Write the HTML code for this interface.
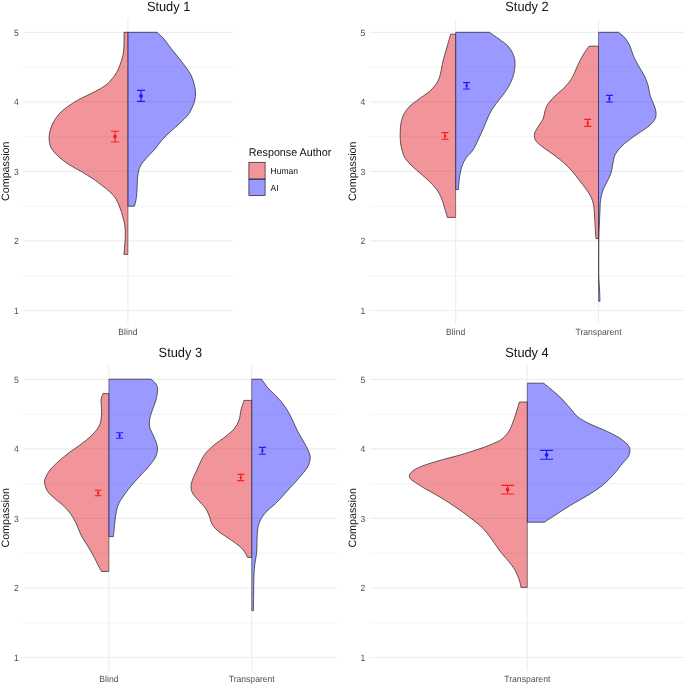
<!DOCTYPE html>
<html lang="en"><head><meta charset="utf-8"><title>Compassion by Response Author</title>
<style>
html,body{margin:0;padding:0;background:#fff;}
svg{display:block;}
text{font-family:"Liberation Sans",Arial,Helvetica,sans-serif;text-rendering:geometricPrecision;}
.tick{font-size:8.6px;fill:#4d4d4d;}
.title{font-size:12.8px;fill:#111;}
.ylab{font-size:10.7px;fill:#111;}
.ltitle{font-size:10.75px;fill:#111;}
.ltext{font-size:8.5px;fill:#111;}
</style></head><body>
<svg width="685" height="685" viewBox="0 0 685 685">
<rect width="685" height="685" fill="#ffffff"/>
<line x1="23.30" x2="232.40" y1="275.74" y2="275.74" stroke="#f0f0f0" stroke-width="0.75"/>
<line x1="23.30" x2="232.40" y1="206.20" y2="206.20" stroke="#f0f0f0" stroke-width="0.75"/>
<line x1="23.30" x2="232.40" y1="136.68" y2="136.68" stroke="#f0f0f0" stroke-width="0.75"/>
<line x1="23.30" x2="232.40" y1="67.14" y2="67.14" stroke="#f0f0f0" stroke-width="0.75"/>
<line x1="23.30" x2="232.40" y1="310.50" y2="310.50" stroke="#eeeeee" stroke-width="1.2"/>
<text transform="translate(18.90 314.00) scale(1 1.045)" class="tick" text-anchor="end">1</text>
<line x1="23.30" x2="232.40" y1="240.97" y2="240.97" stroke="#eeeeee" stroke-width="1.2"/>
<text transform="translate(18.90 244.47) scale(1 1.045)" class="tick" text-anchor="end">2</text>
<line x1="23.30" x2="232.40" y1="171.44" y2="171.44" stroke="#eeeeee" stroke-width="1.2"/>
<text transform="translate(18.90 174.94) scale(1 1.045)" class="tick" text-anchor="end">3</text>
<line x1="23.30" x2="232.40" y1="101.91" y2="101.91" stroke="#eeeeee" stroke-width="1.2"/>
<text transform="translate(18.90 105.41) scale(1 1.045)" class="tick" text-anchor="end">4</text>
<line x1="23.30" x2="232.40" y1="32.38" y2="32.38" stroke="#eeeeee" stroke-width="1.2"/>
<text transform="translate(18.90 35.88) scale(1 1.045)" class="tick" text-anchor="end">5</text>
<line x1="127.90" x2="127.90" y1="18.80" y2="323.60" stroke="#eeeeee" stroke-width="1.2"/>
<text transform="translate(127.90 335.40) scale(1 1.045)" class="tick" text-anchor="middle">Blind</text>
<text transform="translate(168.60 10.50) scale(1 1.045)" class="title" text-anchor="middle">Study 1</text>
<text transform="translate(9.00 171.20) rotate(-90)" class="ylab" text-anchor="middle">Compassion</text>
<path d="M127.90 32.30 L124.00 32.30  C124.00 34.42 124.17 41.22 124.00 45.00 C123.83 48.78 123.67 51.67 123.00 55.00 C122.33 58.33 121.33 61.67 120.00 65.00 C118.67 68.33 117.33 71.67 115.00 75.00 C112.67 78.33 109.50 82.17 106.00 85.00 C102.50 87.83 98.33 89.67 94.00 92.00 C89.67 94.33 84.00 96.83 80.00 99.00 C76.00 101.17 73.33 102.67 70.00 105.00 C66.67 107.33 62.83 110.00 60.00 113.00 C57.17 116.00 54.73 119.67 53.00 123.00 C51.27 126.33 50.23 130.17 49.60 133.00 C48.97 135.83 48.95 137.55 49.20 140.00 C49.45 142.45 49.57 144.95 51.10 147.70 C52.63 150.45 55.23 153.57 58.40 156.50 C61.57 159.43 66.20 162.75 70.10 165.30 C74.00 167.85 77.92 169.50 81.80 171.80 C85.68 174.10 90.03 176.82 93.40 179.10 C96.77 181.38 99.23 183.35 102.00 185.50 C104.77 187.65 107.67 189.75 110.00 192.00 C112.33 194.25 114.33 196.33 116.00 199.00 C117.67 201.67 118.85 205.00 120.00 208.00 C121.15 211.00 122.08 214.00 122.90 217.00 C123.72 220.00 124.50 222.83 124.90 226.00 C125.30 229.17 125.33 232.67 125.30 236.00 C125.27 239.33 124.93 242.93 124.70 246.00 C124.47 249.07 124.03 253.00 123.90 254.40 L127.90 254.40 Z" fill="rgba(224,3,17,0.42)" stroke="none"/><path d="M127.90 32.30 L124.00 32.30  C124.00 34.42 124.17 41.22 124.00 45.00 C123.83 48.78 123.67 51.67 123.00 55.00 C122.33 58.33 121.33 61.67 120.00 65.00 C118.67 68.33 117.33 71.67 115.00 75.00 C112.67 78.33 109.50 82.17 106.00 85.00 C102.50 87.83 98.33 89.67 94.00 92.00 C89.67 94.33 84.00 96.83 80.00 99.00 C76.00 101.17 73.33 102.67 70.00 105.00 C66.67 107.33 62.83 110.00 60.00 113.00 C57.17 116.00 54.73 119.67 53.00 123.00 C51.27 126.33 50.23 130.17 49.60 133.00 C48.97 135.83 48.95 137.55 49.20 140.00 C49.45 142.45 49.57 144.95 51.10 147.70 C52.63 150.45 55.23 153.57 58.40 156.50 C61.57 159.43 66.20 162.75 70.10 165.30 C74.00 167.85 77.92 169.50 81.80 171.80 C85.68 174.10 90.03 176.82 93.40 179.10 C96.77 181.38 99.23 183.35 102.00 185.50 C104.77 187.65 107.67 189.75 110.00 192.00 C112.33 194.25 114.33 196.33 116.00 199.00 C117.67 201.67 118.85 205.00 120.00 208.00 C121.15 211.00 122.08 214.00 122.90 217.00 C123.72 220.00 124.50 222.83 124.90 226.00 C125.30 229.17 125.33 232.67 125.30 236.00 C125.27 239.33 124.93 242.93 124.70 246.00 C124.47 249.07 124.03 253.00 123.90 254.40 L127.90 254.40" fill="none" stroke="#202020" stroke-width="0.7" stroke-linejoin="round"/><path d="M127.90 32.30 V254.40" fill="none" stroke="#202020" stroke-width="0.75" stroke-opacity="0.65"/>
<path d="M127.90 32.30 L157.00 32.30  C158.17 33.42 161.83 36.55 164.00 39.00 C166.17 41.45 167.67 44.00 170.00 47.00 C172.33 50.00 175.50 53.83 178.00 57.00 C180.50 60.17 182.83 63.00 185.00 66.00 C187.17 69.00 189.43 71.83 191.00 75.00 C192.57 78.17 193.63 82.00 194.40 85.00 C195.17 88.00 195.52 90.50 195.60 93.00 C195.68 95.50 195.43 97.67 194.90 100.00 C194.37 102.33 193.55 104.50 192.40 107.00 C191.25 109.50 190.23 112.17 188.00 115.00 C185.77 117.83 182.00 121.17 179.00 124.00 C176.00 126.83 172.83 129.33 170.00 132.00 C167.17 134.67 164.50 137.17 162.00 140.00 C159.50 142.83 157.50 146.08 155.00 149.00 C152.50 151.92 149.33 154.83 147.00 157.50 C144.67 160.17 142.43 162.58 141.00 165.00 C139.57 167.42 139.00 169.50 138.40 172.00 C137.80 174.50 137.63 177.00 137.40 180.00 C137.17 183.00 137.23 186.67 137.00 190.00 C136.77 193.33 136.43 197.30 136.00 200.00 C135.57 202.70 134.67 205.17 134.40 206.20 L127.90 206.20 Z" fill="rgba(2,0,255,0.4)" stroke="none"/><path d="M127.90 32.30 L157.00 32.30  C158.17 33.42 161.83 36.55 164.00 39.00 C166.17 41.45 167.67 44.00 170.00 47.00 C172.33 50.00 175.50 53.83 178.00 57.00 C180.50 60.17 182.83 63.00 185.00 66.00 C187.17 69.00 189.43 71.83 191.00 75.00 C192.57 78.17 193.63 82.00 194.40 85.00 C195.17 88.00 195.52 90.50 195.60 93.00 C195.68 95.50 195.43 97.67 194.90 100.00 C194.37 102.33 193.55 104.50 192.40 107.00 C191.25 109.50 190.23 112.17 188.00 115.00 C185.77 117.83 182.00 121.17 179.00 124.00 C176.00 126.83 172.83 129.33 170.00 132.00 C167.17 134.67 164.50 137.17 162.00 140.00 C159.50 142.83 157.50 146.08 155.00 149.00 C152.50 151.92 149.33 154.83 147.00 157.50 C144.67 160.17 142.43 162.58 141.00 165.00 C139.57 167.42 139.00 169.50 138.40 172.00 C137.80 174.50 137.63 177.00 137.40 180.00 C137.17 183.00 137.23 186.67 137.00 190.00 C136.77 193.33 136.43 197.30 136.00 200.00 C135.57 202.70 134.67 205.17 134.40 206.20 L127.90 206.20" fill="none" stroke="#202020" stroke-width="0.7" stroke-linejoin="round"/><path d="M127.90 32.30 V206.20" fill="none" stroke="#202020" stroke-width="0.75" stroke-opacity="0.65"/>
<g stroke="#ff1a1a" stroke-width="1.1" fill="none"><path d="M110.90 131.20 H119.10 M110.90 142.00 H119.10 M115.00 131.20 V142.00"/></g><circle cx="115.00" cy="136.60" r="1.90" fill="#ff1a1a"/>
<g stroke="#1a1aff" stroke-width="1.1" fill="none"><path d="M136.90 90.40 H145.10 M136.90 101.40 H145.10 M141.00 90.40 V101.40"/></g><circle cx="141.00" cy="95.90" r="1.90" fill="#1a1aff"/>
<line x1="369.80" x2="684.10" y1="275.74" y2="275.74" stroke="#f0f0f0" stroke-width="0.75"/>
<line x1="369.80" x2="684.10" y1="206.20" y2="206.20" stroke="#f0f0f0" stroke-width="0.75"/>
<line x1="369.80" x2="684.10" y1="136.68" y2="136.68" stroke="#f0f0f0" stroke-width="0.75"/>
<line x1="369.80" x2="684.10" y1="67.14" y2="67.14" stroke="#f0f0f0" stroke-width="0.75"/>
<line x1="369.80" x2="684.10" y1="310.50" y2="310.50" stroke="#eeeeee" stroke-width="1.2"/>
<text transform="translate(365.40 314.00) scale(1 1.045)" class="tick" text-anchor="end">1</text>
<line x1="369.80" x2="684.10" y1="240.97" y2="240.97" stroke="#eeeeee" stroke-width="1.2"/>
<text transform="translate(365.40 244.47) scale(1 1.045)" class="tick" text-anchor="end">2</text>
<line x1="369.80" x2="684.10" y1="171.44" y2="171.44" stroke="#eeeeee" stroke-width="1.2"/>
<text transform="translate(365.40 174.94) scale(1 1.045)" class="tick" text-anchor="end">3</text>
<line x1="369.80" x2="684.10" y1="101.91" y2="101.91" stroke="#eeeeee" stroke-width="1.2"/>
<text transform="translate(365.40 105.41) scale(1 1.045)" class="tick" text-anchor="end">4</text>
<line x1="369.80" x2="684.10" y1="32.38" y2="32.38" stroke="#eeeeee" stroke-width="1.2"/>
<text transform="translate(365.40 35.88) scale(1 1.045)" class="tick" text-anchor="end">5</text>
<line x1="455.65" x2="455.65" y1="18.80" y2="323.60" stroke="#eeeeee" stroke-width="1.2"/>
<text transform="translate(455.65 335.40) scale(1 1.045)" class="tick" text-anchor="middle">Blind</text>
<line x1="598.50" x2="598.50" y1="18.80" y2="323.60" stroke="#eeeeee" stroke-width="1.2"/>
<text transform="translate(598.50 335.40) scale(1 1.045)" class="tick" text-anchor="middle">Transparent</text>
<text transform="translate(527.00 10.50) scale(1 1.045)" class="title" text-anchor="middle">Study 2</text>
<text transform="translate(355.50 171.20) rotate(-90)" class="ylab" text-anchor="middle">Compassion</text>
<path d="M455.65 34.20 L450.60 34.20  C450.00 36.33 448.27 42.53 447.00 47.00 C445.73 51.47 444.07 56.67 443.00 61.00 C441.93 65.33 441.53 69.50 440.60 73.00 C439.67 76.50 439.17 79.00 437.40 82.00 C435.63 85.00 433.07 88.17 430.00 91.00 C426.93 93.83 422.33 96.50 419.00 99.00 C415.67 101.50 412.50 103.50 410.00 106.00 C407.50 108.50 405.50 111.17 404.00 114.00 C402.50 116.83 401.63 119.83 401.00 123.00 C400.37 126.17 400.27 129.67 400.20 133.00 C400.13 136.33 400.30 140.17 400.60 143.00 C400.90 145.83 401.27 147.50 402.00 150.00 C402.73 152.50 403.33 155.33 405.00 158.00 C406.67 160.67 409.33 163.33 412.00 166.00 C414.67 168.67 418.00 171.33 421.00 174.00 C424.00 176.67 427.33 179.33 430.00 182.00 C432.67 184.67 435.10 187.33 437.00 190.00 C438.90 192.67 440.13 195.00 441.40 198.00 C442.67 201.00 443.60 204.77 444.60 208.00 C445.60 211.23 446.93 215.83 447.40 217.40 L455.65 217.40 Z" fill="rgba(224,3,17,0.42)" stroke="none"/><path d="M455.65 34.20 L450.60 34.20  C450.00 36.33 448.27 42.53 447.00 47.00 C445.73 51.47 444.07 56.67 443.00 61.00 C441.93 65.33 441.53 69.50 440.60 73.00 C439.67 76.50 439.17 79.00 437.40 82.00 C435.63 85.00 433.07 88.17 430.00 91.00 C426.93 93.83 422.33 96.50 419.00 99.00 C415.67 101.50 412.50 103.50 410.00 106.00 C407.50 108.50 405.50 111.17 404.00 114.00 C402.50 116.83 401.63 119.83 401.00 123.00 C400.37 126.17 400.27 129.67 400.20 133.00 C400.13 136.33 400.30 140.17 400.60 143.00 C400.90 145.83 401.27 147.50 402.00 150.00 C402.73 152.50 403.33 155.33 405.00 158.00 C406.67 160.67 409.33 163.33 412.00 166.00 C414.67 168.67 418.00 171.33 421.00 174.00 C424.00 176.67 427.33 179.33 430.00 182.00 C432.67 184.67 435.10 187.33 437.00 190.00 C438.90 192.67 440.13 195.00 441.40 198.00 C442.67 201.00 443.60 204.77 444.60 208.00 C445.60 211.23 446.93 215.83 447.40 217.40 L455.65 217.40" fill="none" stroke="#202020" stroke-width="0.7" stroke-linejoin="round"/><path d="M455.65 34.20 V217.40" fill="none" stroke="#202020" stroke-width="0.75" stroke-opacity="0.65"/>
<path d="M455.65 32.30 L489.40 32.30  C491.00 33.42 495.90 36.72 499.00 39.00 C502.10 41.28 505.67 43.50 508.00 46.00 C510.33 48.50 511.83 51.33 513.00 54.00 C514.17 56.67 514.83 58.83 515.00 62.00 C515.17 65.17 514.83 69.33 514.00 73.00 C513.17 76.67 511.83 80.33 510.00 84.00 C508.17 87.67 505.50 91.50 503.00 95.00 C500.50 98.50 497.33 101.67 495.00 105.00 C492.67 108.33 490.83 111.33 489.00 115.00 C487.17 118.67 485.67 123.17 484.00 127.00 C482.33 130.83 480.83 134.17 479.00 138.00 C477.17 141.83 475.17 146.67 473.00 150.00 C470.83 153.33 467.83 155.33 466.00 158.00 C464.17 160.67 463.00 163.33 462.00 166.00 C461.00 168.67 460.50 171.33 460.00 174.00 C459.50 176.67 459.27 179.40 459.00 182.00 C458.73 184.60 458.50 188.33 458.40 189.60 L455.65 189.60 Z" fill="rgba(2,0,255,0.4)" stroke="none"/><path d="M455.65 32.30 L489.40 32.30  C491.00 33.42 495.90 36.72 499.00 39.00 C502.10 41.28 505.67 43.50 508.00 46.00 C510.33 48.50 511.83 51.33 513.00 54.00 C514.17 56.67 514.83 58.83 515.00 62.00 C515.17 65.17 514.83 69.33 514.00 73.00 C513.17 76.67 511.83 80.33 510.00 84.00 C508.17 87.67 505.50 91.50 503.00 95.00 C500.50 98.50 497.33 101.67 495.00 105.00 C492.67 108.33 490.83 111.33 489.00 115.00 C487.17 118.67 485.67 123.17 484.00 127.00 C482.33 130.83 480.83 134.17 479.00 138.00 C477.17 141.83 475.17 146.67 473.00 150.00 C470.83 153.33 467.83 155.33 466.00 158.00 C464.17 160.67 463.00 163.33 462.00 166.00 C461.00 168.67 460.50 171.33 460.00 174.00 C459.50 176.67 459.27 179.40 459.00 182.00 C458.73 184.60 458.50 188.33 458.40 189.60 L455.65 189.60" fill="none" stroke="#202020" stroke-width="0.7" stroke-linejoin="round"/><path d="M455.65 32.30 V189.60" fill="none" stroke="#202020" stroke-width="0.75" stroke-opacity="0.65"/>
<g stroke="#ff1a1a" stroke-width="1.1" fill="none"><path d="M441.50 132.60 H448.50 M441.50 139.20 H448.50 M445.00 132.60 V139.20"/></g><circle cx="445.00" cy="135.90" r="1.20" fill="#ff1a1a"/>
<g stroke="#1a1aff" stroke-width="1.1" fill="none"><path d="M463.10 82.60 H470.10 M463.10 89.00 H470.10 M466.60 82.60 V89.00"/></g><circle cx="466.60" cy="85.80" r="1.20" fill="#1a1aff"/>
<path d="M598.50 46.20 L589.00 46.20  C588.00 47.67 585.00 51.53 583.00 55.00 C581.00 58.47 578.83 63.17 577.00 67.00 C575.17 70.83 574.00 74.67 572.00 78.00 C570.00 81.33 567.83 84.00 565.00 87.00 C562.17 90.00 557.83 93.17 555.00 96.00 C552.17 98.83 549.67 101.50 548.00 104.00 C546.33 106.50 545.83 108.50 545.00 111.00 C544.17 113.50 544.17 116.33 543.00 119.00 C541.83 121.67 539.43 124.50 538.00 127.00 C536.57 129.50 534.73 131.67 534.40 134.00 C534.07 136.33 534.40 138.67 536.00 141.00 C537.60 143.33 541.00 145.67 544.00 148.00 C547.00 150.33 550.67 152.50 554.00 155.00 C557.33 157.50 561.00 160.33 564.00 163.00 C567.00 165.67 569.50 168.17 572.00 171.00 C574.50 173.83 576.67 177.00 579.00 180.00 C581.33 183.00 584.00 186.17 586.00 189.00 C588.00 191.83 589.73 194.33 591.00 197.00 C592.27 199.67 593.03 202.17 593.60 205.00 C594.17 207.83 594.17 210.83 594.40 214.00 C594.63 217.17 594.80 220.67 595.00 224.00 C595.20 227.33 595.43 231.57 595.60 234.00 C595.77 236.43 595.93 237.83 596.00 238.60 L598.50 238.60 Z" fill="rgba(224,3,17,0.42)" stroke="none"/><path d="M598.50 46.20 L589.00 46.20  C588.00 47.67 585.00 51.53 583.00 55.00 C581.00 58.47 578.83 63.17 577.00 67.00 C575.17 70.83 574.00 74.67 572.00 78.00 C570.00 81.33 567.83 84.00 565.00 87.00 C562.17 90.00 557.83 93.17 555.00 96.00 C552.17 98.83 549.67 101.50 548.00 104.00 C546.33 106.50 545.83 108.50 545.00 111.00 C544.17 113.50 544.17 116.33 543.00 119.00 C541.83 121.67 539.43 124.50 538.00 127.00 C536.57 129.50 534.73 131.67 534.40 134.00 C534.07 136.33 534.40 138.67 536.00 141.00 C537.60 143.33 541.00 145.67 544.00 148.00 C547.00 150.33 550.67 152.50 554.00 155.00 C557.33 157.50 561.00 160.33 564.00 163.00 C567.00 165.67 569.50 168.17 572.00 171.00 C574.50 173.83 576.67 177.00 579.00 180.00 C581.33 183.00 584.00 186.17 586.00 189.00 C588.00 191.83 589.73 194.33 591.00 197.00 C592.27 199.67 593.03 202.17 593.60 205.00 C594.17 207.83 594.17 210.83 594.40 214.00 C594.63 217.17 594.80 220.67 595.00 224.00 C595.20 227.33 595.43 231.57 595.60 234.00 C595.77 236.43 595.93 237.83 596.00 238.60 L598.50 238.60" fill="none" stroke="#202020" stroke-width="0.7" stroke-linejoin="round"/><path d="M598.50 46.20 V238.60" fill="none" stroke="#202020" stroke-width="0.75" stroke-opacity="0.65"/>
<path d="M598.50 32.30 L618.60 32.30  C619.67 33.25 623.10 35.72 625.00 38.00 C626.90 40.28 628.67 43.17 630.00 46.00 C631.33 48.83 631.67 51.83 633.00 55.00 C634.33 58.17 636.17 61.67 638.00 65.00 C639.83 68.33 642.33 71.67 644.00 75.00 C645.67 78.33 647.00 81.67 648.00 85.00 C649.00 88.33 649.00 91.67 650.00 95.00 C651.00 98.33 653.00 102.17 654.00 105.00 C655.00 107.83 655.83 109.67 656.00 112.00 C656.17 114.33 656.17 116.67 655.00 119.00 C653.83 121.33 651.67 123.67 649.00 126.00 C646.33 128.33 642.33 130.67 639.00 133.00 C635.67 135.33 632.00 137.67 629.00 140.00 C626.00 142.33 623.33 144.50 621.00 147.00 C618.67 149.50 616.33 152.33 615.00 155.00 C613.67 157.67 613.67 160.00 613.00 163.00 C612.33 166.00 612.00 169.83 611.00 173.00 C610.00 176.17 608.33 179.17 607.00 182.00 C605.67 184.83 604.07 187.00 603.00 190.00 C601.93 193.00 601.10 196.67 600.60 200.00 C600.10 203.33 600.20 206.00 600.00 210.00 C599.80 214.00 599.58 219.67 599.40 224.00 C599.22 228.33 599.00 231.67 598.90 236.00 C598.80 240.33 598.82 243.50 598.80 250.00 C598.78 256.50 598.67 268.33 598.80 275.00 C598.93 281.67 599.40 285.63 599.60 290.00 C599.80 294.37 599.93 299.33 600.00 301.20 L598.50 301.20 Z" fill="rgba(2,0,255,0.4)" stroke="none"/><path d="M598.50 32.30 L618.60 32.30  C619.67 33.25 623.10 35.72 625.00 38.00 C626.90 40.28 628.67 43.17 630.00 46.00 C631.33 48.83 631.67 51.83 633.00 55.00 C634.33 58.17 636.17 61.67 638.00 65.00 C639.83 68.33 642.33 71.67 644.00 75.00 C645.67 78.33 647.00 81.67 648.00 85.00 C649.00 88.33 649.00 91.67 650.00 95.00 C651.00 98.33 653.00 102.17 654.00 105.00 C655.00 107.83 655.83 109.67 656.00 112.00 C656.17 114.33 656.17 116.67 655.00 119.00 C653.83 121.33 651.67 123.67 649.00 126.00 C646.33 128.33 642.33 130.67 639.00 133.00 C635.67 135.33 632.00 137.67 629.00 140.00 C626.00 142.33 623.33 144.50 621.00 147.00 C618.67 149.50 616.33 152.33 615.00 155.00 C613.67 157.67 613.67 160.00 613.00 163.00 C612.33 166.00 612.00 169.83 611.00 173.00 C610.00 176.17 608.33 179.17 607.00 182.00 C605.67 184.83 604.07 187.00 603.00 190.00 C601.93 193.00 601.10 196.67 600.60 200.00 C600.10 203.33 600.20 206.00 600.00 210.00 C599.80 214.00 599.58 219.67 599.40 224.00 C599.22 228.33 599.00 231.67 598.90 236.00 C598.80 240.33 598.82 243.50 598.80 250.00 C598.78 256.50 598.67 268.33 598.80 275.00 C598.93 281.67 599.40 285.63 599.60 290.00 C599.80 294.37 599.93 299.33 600.00 301.20 L598.50 301.20" fill="none" stroke="#202020" stroke-width="0.7" stroke-linejoin="round"/><path d="M598.50 32.30 V301.20" fill="none" stroke="#202020" stroke-width="0.75" stroke-opacity="0.65"/>
<g stroke="#ff1a1a" stroke-width="1.1" fill="none"><path d="M584.20 119.40 H591.20 M584.20 126.40 H591.20 M587.70 119.40 V126.40"/></g><circle cx="587.70" cy="122.90" r="1.20" fill="#ff1a1a"/>
<g stroke="#1a1aff" stroke-width="1.1" fill="none"><path d="M605.90 95.40 H612.90 M605.90 102.00 H612.90 M609.40 95.40 V102.00"/></g><circle cx="609.40" cy="98.70" r="1.20" fill="#1a1aff"/>
<line x1="23.30" x2="337.00" y1="622.74" y2="622.74" stroke="#f0f0f0" stroke-width="0.75"/>
<line x1="23.30" x2="337.00" y1="553.22" y2="553.22" stroke="#f0f0f0" stroke-width="0.75"/>
<line x1="23.30" x2="337.00" y1="483.70" y2="483.70" stroke="#f0f0f0" stroke-width="0.75"/>
<line x1="23.30" x2="337.00" y1="414.18" y2="414.18" stroke="#f0f0f0" stroke-width="0.75"/>
<line x1="23.30" x2="337.00" y1="657.50" y2="657.50" stroke="#eeeeee" stroke-width="1.2"/>
<text transform="translate(18.90 661.00) scale(1 1.045)" class="tick" text-anchor="end">1</text>
<line x1="23.30" x2="337.00" y1="587.98" y2="587.98" stroke="#eeeeee" stroke-width="1.2"/>
<text transform="translate(18.90 591.48) scale(1 1.045)" class="tick" text-anchor="end">2</text>
<line x1="23.30" x2="337.00" y1="518.46" y2="518.46" stroke="#eeeeee" stroke-width="1.2"/>
<text transform="translate(18.90 521.96) scale(1 1.045)" class="tick" text-anchor="end">3</text>
<line x1="23.30" x2="337.00" y1="448.94" y2="448.94" stroke="#eeeeee" stroke-width="1.2"/>
<text transform="translate(18.90 452.44) scale(1 1.045)" class="tick" text-anchor="end">4</text>
<line x1="23.30" x2="337.00" y1="379.42" y2="379.42" stroke="#eeeeee" stroke-width="1.2"/>
<text transform="translate(18.90 382.92) scale(1 1.045)" class="tick" text-anchor="end">5</text>
<line x1="108.90" x2="108.90" y1="365.20" y2="670.50" stroke="#eeeeee" stroke-width="1.2"/>
<text transform="translate(108.90 682.30) scale(1 1.045)" class="tick" text-anchor="middle">Blind</text>
<line x1="251.70" x2="251.70" y1="365.20" y2="670.50" stroke="#eeeeee" stroke-width="1.2"/>
<text transform="translate(251.70 682.30) scale(1 1.045)" class="tick" text-anchor="middle">Transparent</text>
<text transform="translate(180.30 357.20) scale(1 1.045)" class="title" text-anchor="middle">Study 3</text>
<text transform="translate(9.00 517.85) rotate(-90)" class="ylab" text-anchor="middle">Compassion</text>
<path d="M108.90 393.60 L103.00 393.60  C102.67 394.67 101.23 397.27 101.00 400.00 C100.77 402.73 101.60 406.67 101.60 410.00 C101.60 413.33 101.60 417.00 101.00 420.00 C100.40 423.00 99.83 425.17 98.00 428.00 C96.17 430.83 93.00 434.17 90.00 437.00 C87.00 439.83 83.33 442.50 80.00 445.00 C76.67 447.50 73.50 449.33 70.00 452.00 C66.50 454.67 62.33 458.00 59.00 461.00 C55.67 464.00 52.33 467.00 50.00 470.00 C47.67 473.00 45.83 476.50 45.00 479.00 C44.17 481.50 44.50 482.83 45.00 485.00 C45.50 487.17 46.83 490.17 48.00 492.00 C49.17 493.83 50.50 494.58 52.00 496.00 C53.50 497.42 55.25 499.00 57.00 500.50 C58.75 502.00 60.33 502.92 62.50 505.00 C64.67 507.08 67.75 510.00 70.00 513.00 C72.25 516.00 74.17 519.33 76.00 523.00 C77.83 526.67 79.17 531.33 81.00 535.00 C82.83 538.67 85.00 541.67 87.00 545.00 C89.00 548.33 91.17 551.67 93.00 555.00 C94.83 558.33 96.60 562.27 98.00 565.00 C99.40 567.73 100.83 570.33 101.40 571.40 L108.90 571.40 Z" fill="rgba(224,3,17,0.42)" stroke="none"/><path d="M108.90 393.60 L103.00 393.60  C102.67 394.67 101.23 397.27 101.00 400.00 C100.77 402.73 101.60 406.67 101.60 410.00 C101.60 413.33 101.60 417.00 101.00 420.00 C100.40 423.00 99.83 425.17 98.00 428.00 C96.17 430.83 93.00 434.17 90.00 437.00 C87.00 439.83 83.33 442.50 80.00 445.00 C76.67 447.50 73.50 449.33 70.00 452.00 C66.50 454.67 62.33 458.00 59.00 461.00 C55.67 464.00 52.33 467.00 50.00 470.00 C47.67 473.00 45.83 476.50 45.00 479.00 C44.17 481.50 44.50 482.83 45.00 485.00 C45.50 487.17 46.83 490.17 48.00 492.00 C49.17 493.83 50.50 494.58 52.00 496.00 C53.50 497.42 55.25 499.00 57.00 500.50 C58.75 502.00 60.33 502.92 62.50 505.00 C64.67 507.08 67.75 510.00 70.00 513.00 C72.25 516.00 74.17 519.33 76.00 523.00 C77.83 526.67 79.17 531.33 81.00 535.00 C82.83 538.67 85.00 541.67 87.00 545.00 C89.00 548.33 91.17 551.67 93.00 555.00 C94.83 558.33 96.60 562.27 98.00 565.00 C99.40 567.73 100.83 570.33 101.40 571.40 L108.90 571.40" fill="none" stroke="#202020" stroke-width="0.7" stroke-linejoin="round"/><path d="M108.90 393.60 V571.40" fill="none" stroke="#202020" stroke-width="0.75" stroke-opacity="0.65"/>
<path d="M108.90 379.20 L151.00 379.20  C151.83 380.00 154.90 382.20 156.00 384.00 C157.10 385.80 157.60 387.33 157.60 390.00 C157.60 392.67 156.87 396.67 156.00 400.00 C155.13 403.33 153.47 406.67 152.40 410.00 C151.33 413.33 150.00 417.00 149.60 420.00 C149.20 423.00 149.27 425.17 150.00 428.00 C150.73 430.83 152.77 433.83 154.00 437.00 C155.23 440.17 157.07 443.83 157.40 447.00 C157.73 450.17 157.23 453.00 156.00 456.00 C154.77 459.00 152.67 461.67 150.00 465.00 C147.33 468.33 143.17 472.50 140.00 476.00 C136.83 479.50 133.75 482.67 131.00 486.00 C128.25 489.33 125.50 493.17 123.50 496.00 C121.50 498.83 120.18 500.50 119.00 503.00 C117.82 505.50 117.07 508.00 116.40 511.00 C115.73 514.00 115.40 517.67 115.00 521.00 C114.60 524.33 114.27 528.40 114.00 531.00 C113.73 533.60 113.50 535.67 113.40 536.60 L108.90 536.60 Z" fill="rgba(2,0,255,0.4)" stroke="none"/><path d="M108.90 379.20 L151.00 379.20  C151.83 380.00 154.90 382.20 156.00 384.00 C157.10 385.80 157.60 387.33 157.60 390.00 C157.60 392.67 156.87 396.67 156.00 400.00 C155.13 403.33 153.47 406.67 152.40 410.00 C151.33 413.33 150.00 417.00 149.60 420.00 C149.20 423.00 149.27 425.17 150.00 428.00 C150.73 430.83 152.77 433.83 154.00 437.00 C155.23 440.17 157.07 443.83 157.40 447.00 C157.73 450.17 157.23 453.00 156.00 456.00 C154.77 459.00 152.67 461.67 150.00 465.00 C147.33 468.33 143.17 472.50 140.00 476.00 C136.83 479.50 133.75 482.67 131.00 486.00 C128.25 489.33 125.50 493.17 123.50 496.00 C121.50 498.83 120.18 500.50 119.00 503.00 C117.82 505.50 117.07 508.00 116.40 511.00 C115.73 514.00 115.40 517.67 115.00 521.00 C114.60 524.33 114.27 528.40 114.00 531.00 C113.73 533.60 113.50 535.67 113.40 536.60 L108.90 536.60" fill="none" stroke="#202020" stroke-width="0.7" stroke-linejoin="round"/><path d="M108.90 379.20 V536.60" fill="none" stroke="#202020" stroke-width="0.75" stroke-opacity="0.65"/>
<g stroke="#ff1a1a" stroke-width="1.1" fill="none"><path d="M94.70 490.20 H101.70 M94.70 495.80 H101.70 M98.20 490.20 V495.80"/></g><circle cx="98.20" cy="493.00" r="1.20" fill="#ff1a1a"/>
<g stroke="#1a1aff" stroke-width="1.1" fill="none"><path d="M116.10 432.80 H123.10 M116.10 438.20 H123.10 M119.60 432.80 V438.20"/></g><circle cx="119.60" cy="435.50" r="1.20" fill="#1a1aff"/>
<path d="M251.70 400.40 L244.00 400.40  C243.50 402.00 241.83 406.73 241.00 410.00 C240.17 413.27 240.17 416.83 239.00 420.00 C237.83 423.17 236.33 426.17 234.00 429.00 C231.67 431.83 228.33 434.33 225.00 437.00 C221.67 439.67 217.33 442.17 214.00 445.00 C210.67 447.83 207.33 451.00 205.00 454.00 C202.67 457.00 201.50 460.00 200.00 463.00 C198.50 466.00 197.27 469.17 196.00 472.00 C194.73 474.83 193.23 477.50 192.40 480.00 C191.57 482.50 190.90 484.67 191.00 487.00 C191.10 489.33 191.50 491.50 193.00 494.00 C194.50 496.50 197.83 499.50 200.00 502.00 C202.17 504.50 204.40 506.50 206.00 509.00 C207.60 511.50 208.60 514.50 209.60 517.00 C210.60 519.50 210.60 521.67 212.00 524.00 C213.40 526.33 215.33 528.67 218.00 531.00 C220.67 533.33 224.67 535.67 228.00 538.00 C231.33 540.33 235.33 542.83 238.00 545.00 C240.67 547.17 242.40 548.93 244.00 551.00 C245.60 553.07 247.00 556.33 247.60 557.40 L251.70 557.40 Z" fill="rgba(224,3,17,0.42)" stroke="none"/><path d="M251.70 400.40 L244.00 400.40  C243.50 402.00 241.83 406.73 241.00 410.00 C240.17 413.27 240.17 416.83 239.00 420.00 C237.83 423.17 236.33 426.17 234.00 429.00 C231.67 431.83 228.33 434.33 225.00 437.00 C221.67 439.67 217.33 442.17 214.00 445.00 C210.67 447.83 207.33 451.00 205.00 454.00 C202.67 457.00 201.50 460.00 200.00 463.00 C198.50 466.00 197.27 469.17 196.00 472.00 C194.73 474.83 193.23 477.50 192.40 480.00 C191.57 482.50 190.90 484.67 191.00 487.00 C191.10 489.33 191.50 491.50 193.00 494.00 C194.50 496.50 197.83 499.50 200.00 502.00 C202.17 504.50 204.40 506.50 206.00 509.00 C207.60 511.50 208.60 514.50 209.60 517.00 C210.60 519.50 210.60 521.67 212.00 524.00 C213.40 526.33 215.33 528.67 218.00 531.00 C220.67 533.33 224.67 535.67 228.00 538.00 C231.33 540.33 235.33 542.83 238.00 545.00 C240.67 547.17 242.40 548.93 244.00 551.00 C245.60 553.07 247.00 556.33 247.60 557.40 L251.70 557.40" fill="none" stroke="#202020" stroke-width="0.7" stroke-linejoin="round"/><path d="M251.70 400.40 V557.40" fill="none" stroke="#202020" stroke-width="0.75" stroke-opacity="0.65"/>
<path d="M251.70 379.20 L261.60 379.20  C262.67 380.67 265.27 384.87 268.00 388.00 C270.73 391.13 275.00 394.67 278.00 398.00 C281.00 401.33 283.67 404.50 286.00 408.00 C288.33 411.50 290.00 415.00 292.00 419.00 C294.00 423.00 295.83 427.83 298.00 432.00 C300.17 436.17 303.07 440.33 305.00 444.00 C306.93 447.67 308.77 451.33 309.60 454.00 C310.43 456.67 310.43 457.67 310.00 460.00 C309.57 462.33 308.83 465.00 307.00 468.00 C305.17 471.00 302.00 474.50 299.00 478.00 C296.00 481.50 292.17 485.50 289.00 489.00 C285.83 492.50 282.50 496.33 280.00 499.00 C277.50 501.67 276.33 502.83 274.00 505.00 C271.67 507.17 268.33 509.33 266.00 512.00 C263.67 514.67 261.40 518.00 260.00 521.00 C258.60 524.00 258.10 526.67 257.60 530.00 C257.10 533.33 257.17 537.17 257.00 541.00 C256.83 544.83 256.93 549.33 256.60 553.00 C256.27 556.67 255.43 559.33 255.00 563.00 C254.57 566.67 254.23 569.67 254.00 575.00 C253.77 580.33 253.70 589.07 253.60 595.00 C253.50 600.93 253.43 608.00 253.40 610.60 L251.70 610.60 Z" fill="rgba(2,0,255,0.4)" stroke="none"/><path d="M251.70 379.20 L261.60 379.20  C262.67 380.67 265.27 384.87 268.00 388.00 C270.73 391.13 275.00 394.67 278.00 398.00 C281.00 401.33 283.67 404.50 286.00 408.00 C288.33 411.50 290.00 415.00 292.00 419.00 C294.00 423.00 295.83 427.83 298.00 432.00 C300.17 436.17 303.07 440.33 305.00 444.00 C306.93 447.67 308.77 451.33 309.60 454.00 C310.43 456.67 310.43 457.67 310.00 460.00 C309.57 462.33 308.83 465.00 307.00 468.00 C305.17 471.00 302.00 474.50 299.00 478.00 C296.00 481.50 292.17 485.50 289.00 489.00 C285.83 492.50 282.50 496.33 280.00 499.00 C277.50 501.67 276.33 502.83 274.00 505.00 C271.67 507.17 268.33 509.33 266.00 512.00 C263.67 514.67 261.40 518.00 260.00 521.00 C258.60 524.00 258.10 526.67 257.60 530.00 C257.10 533.33 257.17 537.17 257.00 541.00 C256.83 544.83 256.93 549.33 256.60 553.00 C256.27 556.67 255.43 559.33 255.00 563.00 C254.57 566.67 254.23 569.67 254.00 575.00 C253.77 580.33 253.70 589.07 253.60 595.00 C253.50 600.93 253.43 608.00 253.40 610.60 L251.70 610.60" fill="none" stroke="#202020" stroke-width="0.7" stroke-linejoin="round"/><path d="M251.70 379.20 V610.60" fill="none" stroke="#202020" stroke-width="0.75" stroke-opacity="0.65"/>
<g stroke="#ff1a1a" stroke-width="1.1" fill="none"><path d="M237.30 474.40 H244.30 M237.30 480.60 H244.30 M240.80 474.40 V480.60"/></g><circle cx="240.80" cy="477.50" r="1.20" fill="#ff1a1a"/>
<g stroke="#1a1aff" stroke-width="1.1" fill="none"><path d="M258.90 447.40 H265.90 M258.90 454.20 H265.90 M262.40 447.40 V454.20"/></g><circle cx="262.40" cy="450.80" r="1.20" fill="#1a1aff"/>
<line x1="369.80" x2="684.10" y1="622.74" y2="622.74" stroke="#f0f0f0" stroke-width="0.75"/>
<line x1="369.80" x2="684.10" y1="553.22" y2="553.22" stroke="#f0f0f0" stroke-width="0.75"/>
<line x1="369.80" x2="684.10" y1="483.70" y2="483.70" stroke="#f0f0f0" stroke-width="0.75"/>
<line x1="369.80" x2="684.10" y1="414.18" y2="414.18" stroke="#f0f0f0" stroke-width="0.75"/>
<line x1="369.80" x2="684.10" y1="657.50" y2="657.50" stroke="#eeeeee" stroke-width="1.2"/>
<text transform="translate(365.40 661.00) scale(1 1.045)" class="tick" text-anchor="end">1</text>
<line x1="369.80" x2="684.10" y1="587.98" y2="587.98" stroke="#eeeeee" stroke-width="1.2"/>
<text transform="translate(365.40 591.48) scale(1 1.045)" class="tick" text-anchor="end">2</text>
<line x1="369.80" x2="684.10" y1="518.46" y2="518.46" stroke="#eeeeee" stroke-width="1.2"/>
<text transform="translate(365.40 521.96) scale(1 1.045)" class="tick" text-anchor="end">3</text>
<line x1="369.80" x2="684.10" y1="448.94" y2="448.94" stroke="#eeeeee" stroke-width="1.2"/>
<text transform="translate(365.40 452.44) scale(1 1.045)" class="tick" text-anchor="end">4</text>
<line x1="369.80" x2="684.10" y1="379.42" y2="379.42" stroke="#eeeeee" stroke-width="1.2"/>
<text transform="translate(365.40 382.92) scale(1 1.045)" class="tick" text-anchor="end">5</text>
<line x1="527.30" x2="527.30" y1="365.20" y2="670.50" stroke="#eeeeee" stroke-width="1.2"/>
<text transform="translate(527.30 682.30) scale(1 1.045)" class="tick" text-anchor="middle">Transparent</text>
<text transform="translate(527.00 357.20) scale(1 1.045)" class="title" text-anchor="middle">Study 4</text>
<text transform="translate(355.50 517.85) rotate(-90)" class="ylab" text-anchor="middle">Compassion</text>
<path d="M527.30 402.00 L519.40 402.00  C519.00 403.33 518.07 406.67 517.00 410.00 C515.93 413.33 514.33 418.50 513.00 422.00 C511.67 425.50 510.83 428.17 509.00 431.00 C507.17 433.83 505.17 436.67 502.00 439.00 C498.83 441.33 494.33 443.17 490.00 445.00 C485.67 446.83 481.00 448.33 476.00 450.00 C471.00 451.67 466.00 453.27 460.00 455.00 C454.00 456.73 446.00 458.67 440.00 460.40 C434.00 462.13 428.33 463.80 424.00 465.40 C419.67 467.00 416.40 468.47 414.00 470.00 C411.60 471.53 410.23 473.18 409.60 474.60 C408.97 476.02 409.37 477.27 410.20 478.50 C411.03 479.73 412.17 480.33 414.60 482.00 C417.03 483.67 421.15 486.33 424.80 488.50 C428.45 490.67 432.60 492.70 436.50 495.00 C440.40 497.30 444.07 499.62 448.20 502.30 C452.33 504.98 457.17 508.17 461.30 511.10 C465.43 514.03 469.35 516.98 473.00 519.90 C476.65 522.82 480.03 525.32 483.20 528.60 C486.37 531.88 489.20 535.83 492.00 539.60 C494.80 543.37 497.00 547.30 500.00 551.20 C503.00 555.10 507.33 559.53 510.00 563.00 C512.67 566.47 514.40 569.00 516.00 572.00 C517.60 575.00 518.77 578.43 519.60 581.00 C520.43 583.57 520.77 586.33 521.00 587.40 L527.30 587.40 Z" fill="rgba(224,3,17,0.42)" stroke="none"/><path d="M527.30 402.00 L519.40 402.00  C519.00 403.33 518.07 406.67 517.00 410.00 C515.93 413.33 514.33 418.50 513.00 422.00 C511.67 425.50 510.83 428.17 509.00 431.00 C507.17 433.83 505.17 436.67 502.00 439.00 C498.83 441.33 494.33 443.17 490.00 445.00 C485.67 446.83 481.00 448.33 476.00 450.00 C471.00 451.67 466.00 453.27 460.00 455.00 C454.00 456.73 446.00 458.67 440.00 460.40 C434.00 462.13 428.33 463.80 424.00 465.40 C419.67 467.00 416.40 468.47 414.00 470.00 C411.60 471.53 410.23 473.18 409.60 474.60 C408.97 476.02 409.37 477.27 410.20 478.50 C411.03 479.73 412.17 480.33 414.60 482.00 C417.03 483.67 421.15 486.33 424.80 488.50 C428.45 490.67 432.60 492.70 436.50 495.00 C440.40 497.30 444.07 499.62 448.20 502.30 C452.33 504.98 457.17 508.17 461.30 511.10 C465.43 514.03 469.35 516.98 473.00 519.90 C476.65 522.82 480.03 525.32 483.20 528.60 C486.37 531.88 489.20 535.83 492.00 539.60 C494.80 543.37 497.00 547.30 500.00 551.20 C503.00 555.10 507.33 559.53 510.00 563.00 C512.67 566.47 514.40 569.00 516.00 572.00 C517.60 575.00 518.77 578.43 519.60 581.00 C520.43 583.57 520.77 586.33 521.00 587.40 L527.30 587.40" fill="none" stroke="#202020" stroke-width="0.7" stroke-linejoin="round"/><path d="M527.30 402.00 V587.40" fill="none" stroke="#202020" stroke-width="0.75" stroke-opacity="0.65"/>
<path d="M527.30 383.20 L543.60 383.20  C545.00 384.33 548.93 387.37 552.00 390.00 C555.07 392.63 559.00 396.00 562.00 399.00 C565.00 402.00 567.33 405.00 570.00 408.00 C572.67 411.00 574.67 414.33 578.00 417.00 C581.33 419.67 585.67 421.83 590.00 424.00 C594.33 426.17 599.33 427.83 604.00 430.00 C608.67 432.17 614.17 434.67 618.00 437.00 C621.83 439.33 625.00 441.83 627.00 444.00 C629.00 446.17 629.83 447.83 630.00 450.00 C630.17 452.17 629.33 454.67 628.00 457.00 C626.67 459.33 624.33 461.17 622.00 464.00 C619.67 466.83 617.17 470.50 614.00 474.00 C610.83 477.50 607.00 481.67 603.00 485.00 C599.00 488.33 594.17 491.33 590.00 494.00 C585.83 496.67 581.83 498.75 578.00 501.00 C574.17 503.25 572.60 503.97 567.00 507.50 C561.40 511.03 548.17 519.75 544.40 522.20 L527.30 522.20 Z" fill="rgba(2,0,255,0.4)" stroke="none"/><path d="M527.30 383.20 L543.60 383.20  C545.00 384.33 548.93 387.37 552.00 390.00 C555.07 392.63 559.00 396.00 562.00 399.00 C565.00 402.00 567.33 405.00 570.00 408.00 C572.67 411.00 574.67 414.33 578.00 417.00 C581.33 419.67 585.67 421.83 590.00 424.00 C594.33 426.17 599.33 427.83 604.00 430.00 C608.67 432.17 614.17 434.67 618.00 437.00 C621.83 439.33 625.00 441.83 627.00 444.00 C629.00 446.17 629.83 447.83 630.00 450.00 C630.17 452.17 629.33 454.67 628.00 457.00 C626.67 459.33 624.33 461.17 622.00 464.00 C619.67 466.83 617.17 470.50 614.00 474.00 C610.83 477.50 607.00 481.67 603.00 485.00 C599.00 488.33 594.17 491.33 590.00 494.00 C585.83 496.67 581.83 498.75 578.00 501.00 C574.17 503.25 572.60 503.97 567.00 507.50 C561.40 511.03 548.17 519.75 544.40 522.20 L527.30 522.20" fill="none" stroke="#202020" stroke-width="0.7" stroke-linejoin="round"/><path d="M527.30 383.20 V522.20" fill="none" stroke="#202020" stroke-width="0.75" stroke-opacity="0.65"/>
<g stroke="#ff1a1a" stroke-width="1.1" fill="none"><path d="M501.10 485.40 H514.10 M501.10 494.00 H514.10 M507.60 485.40 V494.00"/></g><circle cx="507.60" cy="489.70" r="1.90" fill="#ff1a1a"/>
<g stroke="#1a1aff" stroke-width="1.1" fill="none"><path d="M540.10 450.40 H553.10 M540.10 459.20 H553.10 M546.60 450.40 V459.20"/></g><circle cx="546.60" cy="454.80" r="1.90" fill="#1a1aff"/>
<text transform="translate(248.8 155.7) scale(1 1.045)" class="ltitle">Response Author</text>
<rect x="248.9" y="162.3" width="16.2" height="16.8" fill="rgba(224,3,17,0.42)" stroke="#202020" stroke-width="0.7"/>
<rect x="248.9" y="179.1" width="16.2" height="16.5" fill="rgba(2,0,255,0.4)" stroke="#202020" stroke-width="0.7"/>
<text transform="translate(270.6 174.0) scale(1 1.045)" class="ltext">Human</text>
<text transform="translate(270.6 190.8) scale(1 1.045)" class="ltext">AI</text>
</svg>
</body></html>
